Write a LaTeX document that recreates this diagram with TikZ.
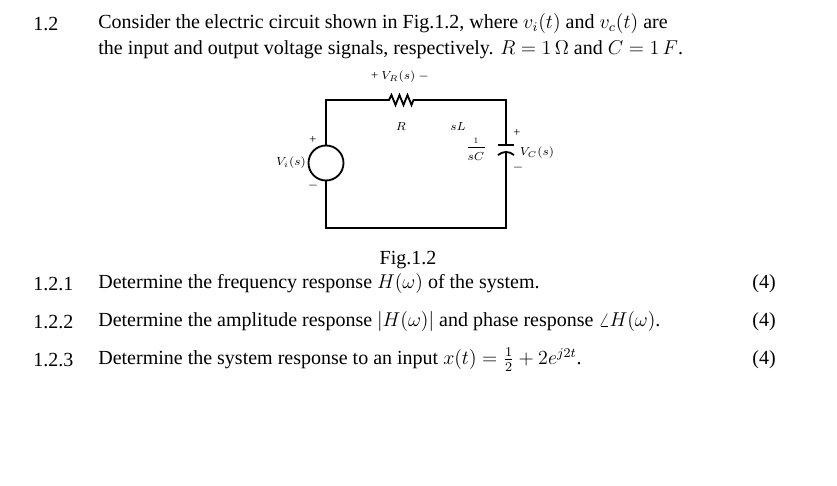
\documentclass[tikz,border=0pt]{standalone}
\usepackage{fontspec}
\setmainfont{Liberation Serif}
\usetikzlibrary{positioning,calc}
\tikzset{
  txt/.style={anchor=west, inner sep=0pt, font=\fontsize{12}{14}\selectfont},
  lab/.style={inner sep=0pt, font=\fontsize{7.5}{9}\selectfont},
  wire/.style={line width=1.1pt}
}
\begin{document}
\begin{tikzpicture}[x=0.6pt, y=-0.6pt]
    \useasboundingbox (0,0) rectangle (837,486);
    % question text
    \node[txt] (q) at (33,24) {1.2};
    \node[txt] (l1) at (98,24) {Consider the electric circuit shown in Fig.1.2, where $v_i(t)$ and $v_c(t)$ are};
    \node[txt] (l2) at (98,50) {the input and output voltage signals, respectively. $R=1\,\Omega$ and $C=1\,F$.};

    % circuit corners
    \coordinate (tl) at (326,100);
    \coordinate (tr) at (506,100);
    \coordinate (bl) at (326,228);
    \coordinate (br) at (506,228);
    \coordinate (ra) at (386,100);
    \coordinate (rb) at (417,100);
    \coordinate (ca) at (506,145);
    \coordinate (cb) at (506,151);

    % source
    \node[draw, circle, wire, inner sep=0pt, minimum size=21pt] (src) at (326,163) {};
    \draw[wire] (src.north) -- (tl) -- (ra);
    \draw[wire] (src.south) -- (bl) -- (br) -- (cb);
    % resistor
    \draw[wire] (ra) -- ++(3,0) -- ++(2.5,-5) -- ++(4,10) -- ++(4,-10) -- ++(4,10) -- ++(4,-10) -- ++(4,10) -- ++(2,-5) -- (rb);
    \draw[wire] (rb) -- (tr) -- (ca);
    % capacitor
    \draw[wire] ($(ca)+(-8,0)$) -- ($(ca)+(8,0)$);
    \draw[wire] ($(cb)+(-8,4)$) .. controls ($(cb)+(-3,0)$) and ($(cb)+(3,0)$) .. ($(cb)+(8,4)$);

    % labels
    \node[lab] (vr) at (400,77) {+ $V_R(s)$ $-$};
    \node[lab] (rl) at (401,127) {$R$};
    \node[lab] (sl) at (458,127) {$sL$};
    \node[lab] (one) at (476,141) {\tiny 1};
    \draw (468,147) -- (485,147);
    \node[lab] (sc) at (476,157) {$sC$};
    \node[lab] (cp) at (517,133) {+};
    \node[lab] (vc) at (537,153) {$V_C(s)$};
    \node[lab] (cm) at (518,168) {$-$};
    \node[lab] (vi) at (291,163) {$V_i(s)$};
    \node[lab] (sp) at (313,140) {+};
    \node[lab] (sm) at (313,186) {$-$};

    \node[txt, anchor=center] (fig) at (408,260) {Fig.1.2};

    % sub-questions
    \node[txt] (a1) at (33,284) {1.2.1};
    \node[txt] (b1) at (98,284) {Determine the frequency response $H(\omega)$ of the system.};
    \node[txt] (c1) at (752,284) {(4)};
    \node[txt] (a2) at (33,322) {1.2.2};
    \node[txt] (b2) at (98,322) {Determine the amplitude response $\bigl|H(\omega)\bigr|$ and phase response $\angle H(\omega)$.};
    \node[txt] (c2) at (752,322) {(4)};
    \node[txt] (a3) at (33,360) {1.2.3};
    \node[txt] (b3) at (98,360) {Determine the system response to an input $x(t)=\frac{1}{2}+2e^{j2t}$.};
    \node[txt] (c3) at (752,360) {(4)};
\end{tikzpicture}
\end{document}
